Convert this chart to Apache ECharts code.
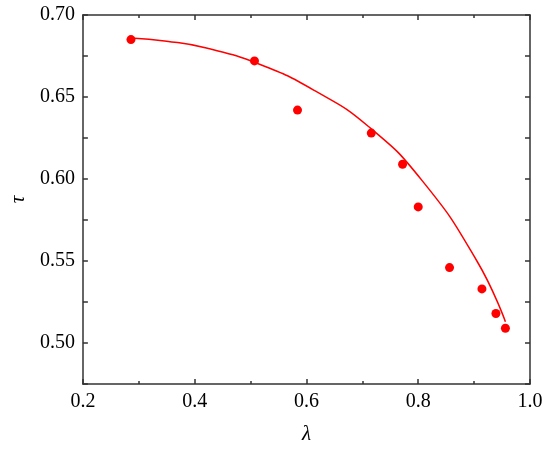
<!DOCTYPE html>
<html><head><meta charset="utf-8">
<script src="https://cdn.jsdelivr.net/npm/echarts@6/dist/echarts.min.js"></script>
<style>html,body{margin:0;padding:0;background:#fff}#c{width:550px;height:450px}</style>
</head><body><div id="c"></div>
<script>
var pointsX = [0.286, 0.507, 0.584, 0.716, 0.772, 0.800, 0.856, 0.914, 0.939, 0.956];
var pointsY = [0.685, 0.672, 0.642, 0.628, 0.609, 0.583, 0.546, 0.533, 0.518, 0.509];
var fitX = [0.286, 0.35, 0.419, 0.516, 0.614, 0.711, 0.807, 0.905, 0.956];
var fitY = [0.686, 0.684, 0.680, 0.670, 0.654, 0.632, 0.599, 0.550, 0.513];

var myChart = echarts.init(document.getElementById('c'));
var font = 'Liberation Serif';
function axis(name, min, max, interval, show, gap, fmt, minor) {
    return {
        min: min, max: max, interval: interval,
        name: show ? name : '', nameLocation: 'middle', nameGap: gap,
        nameTextStyle: {fontFamily: font, fontStyle: 'italic', fontSize: 21, color: '#000'},
        axisLine: {show: true, lineStyle: {color: '#333', width: 1.5}},
        axisTick: {show: true, inside: true, length: 5, lineStyle: {color: '#333', width: 1.5}},
        minorTick: {show: minor, splitNumber: 2, length: 3, lineStyle: {color: '#333', width: 1.5}},
        axisLabel: {show: show, fontFamily: font, fontSize: 20, color: '#000', formatter: fmt},
        splitLine: {show: false}
    };
}
function yfmt(v) {
    var k = Math.round(v * 1000);
    return k % 50 === 0 ? (k / 1000).toFixed(2) : '';
}
var option = {
    animation: false,
    grid: {left: 74, right: 20, top: 15, bottom: 56},
    xAxis: [
        axis('λ', 0.2, 1.0, 0.2, true, 40, function (v) { return v.toFixed(1); }, true),
        Object.assign(axis('', 0.2, 1.0, 0.2, false, 0, null, true), {position: 'top'})
    ],
    yAxis: [
        axis('τ', 0.475, 0.70, 0.025, true, 48, yfmt, false),
        Object.assign(axis('', 0.475, 0.70, 0.025, false, 0, null, false), {position: 'right'})
    ],
    series: [
        {
            type: 'line', smooth: true, showSymbol: false,
            lineStyle: {color: '#ff0000', width: 1.5},
            data: fitX.map(function (x, i) { return [x, fitY[i]]; })
        },
        {
            type: 'scatter', symbolSize: 9,
            itemStyle: {color: '#ff0000', opacity: 1},
            data: pointsX.map(function (x, i) { return [x, pointsY[i]]; })
        }
    ]
};
myChart.setOption(option);
</script>
</body></html>
